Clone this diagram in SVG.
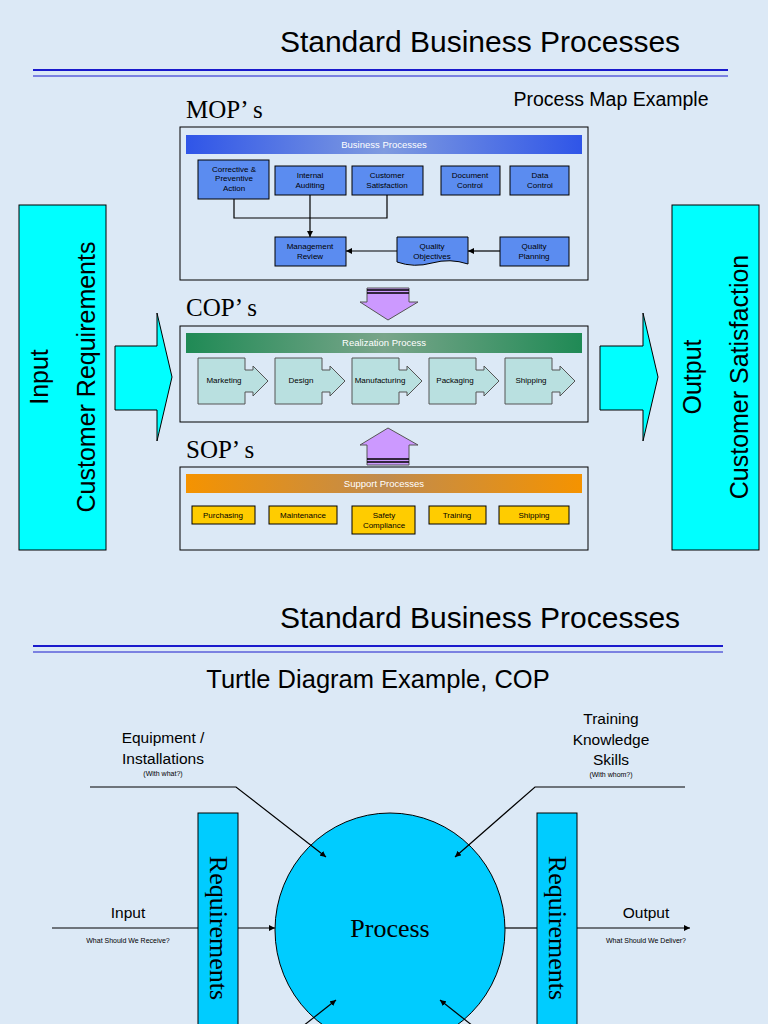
<svg xmlns="http://www.w3.org/2000/svg" width="768" height="1024" viewBox="0 0 768 1024">
<defs>
<linearGradient id="gb" x1="0" x2="1"><stop offset="0" stop-color="#2f55e8"/><stop offset="0.5" stop-color="#7f9be0"/><stop offset="1" stop-color="#2f55e8"/></linearGradient>
<linearGradient id="gg" x1="0" x2="1"><stop offset="0" stop-color="#1f8a55"/><stop offset="0.5" stop-color="#79a58a"/><stop offset="1" stop-color="#1f8a55"/></linearGradient>
<linearGradient id="go" x1="0" x2="1"><stop offset="0" stop-color="#f59300"/><stop offset="0.5" stop-color="#c08b4e"/><stop offset="1" stop-color="#f59300"/></linearGradient>
<marker id="ah" viewBox="0 0 10 10" refX="10" refY="5" markerWidth="5" markerHeight="5" orient="auto"><path d="M0,0L10,5L0,10z" fill="#000"/></marker>
<marker id="as" viewBox="0 0 10 10" refX="10" refY="5" markerWidth="5" markerHeight="5" orient="auto"><path d="M0,0L10,5L0,10z" fill="#000"/></marker>
</defs>
<style>
.s{font-family:"Liberation Sans",Arial,sans-serif;text-anchor:middle}
.r{font-family:"Liberation Serif","Times New Roman",serif}
.bb{fill:#5b8cf0;stroke:#000;stroke-width:1}
.cb{fill:#b9e0e0;stroke:#555;stroke-width:1}
.yb{fill:#ffcc00;stroke:#000;stroke-width:1}
.fr{fill:none;stroke:#000;stroke-width:1}
.t{font-size:8px}
.ln{stroke:#000;stroke-width:1.2;fill:none}
.cy{fill:#00ffff;stroke:#000;stroke-width:1}
</style>
<rect width="768" height="1024" fill="#dce9f6"/>
<text class="s" x="480" y="52" font-size="30">Standard Business Processes</text>
<line x1="33" y1="70" x2="728" y2="70" stroke="#1a1acc" stroke-width="2"/>
<line x1="33" y1="76" x2="728" y2="76" stroke="#1a1acc" stroke-width="1"/>
<text class="s" x="611" y="106" font-size="19.5">Process Map Example</text>
<text class="r" x="186" y="118" font-size="25">MOP’ s</text>
<text class="r" x="186" y="316" font-size="25">COP’ s</text>
<text class="r" x="186" y="458" font-size="25">SOP’ s</text>

<g id="mop">
<rect class="fr" x="180" y="127" width="408" height="153"/>
<rect x="186" y="135" width="396" height="19" fill="url(#gb)"/>
<text class="s" x="384" y="148" font-size="9.5" fill="#fff">Business Processes</text>
</g>
<g id="n-cpa"><rect class="bb" x="198" y="160" width="71" height="39"/><text class="s t" x="234" y="172">Corrective &amp;</text><text class="s t" x="234" y="181">Preventive</text><text class="s t" x="234" y="191">Action</text></g>
<g id="n-ia"><rect class="bb" x="275" y="166" width="71" height="29"/><text class="s t" x="310" y="178">Internal</text><text class="s t" x="310" y="188">Auditing</text></g>
<g id="n-cs"><rect class="bb" x="352" y="166" width="71" height="29"/><text class="s t" x="387" y="178">Customer</text><text class="s t" x="387" y="188">Satisfaction</text></g>
<g id="n-dc"><rect class="bb" x="441" y="166" width="59" height="29"/><text class="s t" x="470" y="178">Document</text><text class="s t" x="470" y="188">Control</text></g>
<g id="n-dat"><rect class="bb" x="510" y="166" width="59" height="29"/><text class="s t" x="540" y="178">Data</text><text class="s t" x="540" y="188">Control</text></g>
<g id="n-mr"><rect class="bb" x="275" y="237" width="71" height="29"/><text class="s t" x="310" y="249">Management</text><text class="s t" x="310" y="259">Review</text></g>
<g id="n-qo"><path class="bb" d="M397,237H468V264Q450,258 432,263Q414,268 397,262Z"/><text class="s t" x="432" y="249">Quality</text><text class="s t" x="432" y="259">Objectives</text></g>
<g id="n-qp"><rect class="bb" x="500" y="237" width="69" height="29"/><text class="s t" x="534" y="249">Quality</text><text class="s t" x="534" y="259">Planning</text></g>

<g id="cop">
<rect class="fr" x="180" y="326" width="408" height="96"/>
<rect x="186" y="333" width="396" height="20" fill="url(#gg)"/>
<text class="s" x="384" y="346" font-size="9.5" fill="#fff">Realization Process</text>
</g>
<g id="p1"><path class="cb" d="M198,358H245V370H253V366L268,381L253,396V392H245V404H198Z"/><text class="s t" x="224" y="383">Marketing</text></g>
<g id="p2"><path class="cb" d="M275,358H322V370H330V366L345,381L330,396V392H322V404H275Z"/><text class="s t" x="301" y="383">Design</text></g>
<g id="p3"><path class="cb" d="M352,358H399V370H407V366L422,381L407,396V392H399V404H352Z"/><text class="s t" x="380" y="383">Manufacturing</text></g>
<g id="p4"><path class="cb" d="M429,358H476V370H484V366L499,381L484,396V392H476V404H429Z"/><text class="s t" x="455" y="383">Packaging</text></g>
<g id="p5"><path class="cb" d="M505,358H552V370H560V366L575,381L560,396V392H552V404H505Z"/><text class="s t" x="531" y="383">Shipping</text></g>

<g id="sop">
<rect class="fr" x="180" y="467" width="408" height="83"/>
<rect x="186" y="474" width="396" height="19" fill="url(#go)"/>
<text class="s" x="384" y="487" font-size="9.5" fill="#fff">Support Processes</text>
</g>
<g id="s1"><rect class="yb" x="192" y="506" width="63" height="18"/><text class="s t" x="223" y="518">Purchasing</text></g>
<g id="s2"><rect class="yb" x="269" y="506" width="68" height="18"/><text class="s t" x="303" y="518">Maintenance</text></g>
<g id="s3"><rect class="yb" x="352" y="506" width="63" height="28"/><text class="s t" x="384" y="518">Safety</text><text class="s t" x="384" y="528">Compliance</text></g>
<g id="s4"><rect class="yb" x="429" y="506" width="57" height="18"/><text class="s t" x="457" y="518">Training</text></g>
<g id="s5"><rect class="yb" x="499" y="506" width="70" height="18"/><text class="s t" x="534" y="518">Shipping</text></g>

<g id="big-arrows">
<path d="M367,288H409V302H418L388,320L360,302H367Z" fill="#cc99ff" stroke="#555"/>
<path d="M367,290H409M367,293H409" stroke="#000" stroke-width="1.5"/>
<path d="M367,465H409V445H418L388,428L360,445H367Z" fill="#cc99ff" stroke="#555"/>
<path d="M367,459H409M367,462H409" stroke="#000" stroke-width="1.5"/>
<path class="cy" d="M115,346H157V313L172,377L157,441V410H115Z"/>
<path class="cy" d="M600,346H643V313L658,377L643,441V410H600Z"/>
</g>
<g id="input"><rect class="cy" x="19" y="205" width="87" height="345"/>
<text class="s" font-size="25" transform="translate(48,377) rotate(-90)">Input</text>
<text class="s" font-size="25" transform="translate(95,377) rotate(-90)">Customer Requirements</text></g>
<g id="output"><rect class="cy" x="672" y="205" width="87" height="345"/>
<text class="s" font-size="25" transform="translate(701,377) rotate(-90)">Output</text>
<text class="s" font-size="25" transform="translate(748,377) rotate(-90)">Customer Satisfaction</text></g>

<text class="s" x="480" y="628" font-size="30">Standard Business Processes</text>
<line x1="33" y1="646" x2="723" y2="646" stroke="#1a1acc" stroke-width="2"/>
<line x1="33" y1="652" x2="723" y2="652" stroke="#1a1acc" stroke-width="1"/>
<text class="s" x="378" y="688" font-size="25.5">Turtle Diagram Example, COP</text>

<g id="equip"><text class="s" x="163" y="743" font-size="15.5">Equipment /</text><text class="s" x="163" y="764" font-size="15.5">Installations</text><text class="s" x="163" y="776" font-size="7">(With what?)</text></g>
<g id="training"><text class="s" x="611" y="724" font-size="15.5">Training</text><text class="s" x="611" y="745" font-size="15.5">Knowledge</text><text class="s" x="611" y="765" font-size="15.5">Skills</text><text class="s" x="611" y="777" font-size="7">(With whom?)</text></g>
<g id="req-l"><rect x="198" y="813" width="40" height="220" fill="#00ccff" stroke="#000"/><text class="r" font-size="26" transform="translate(210,928) rotate(90)" text-anchor="middle">Requirements</text></g>
<g id="req-r"><rect x="537" y="813" width="40" height="220" fill="#00ccff" stroke="#000"/><text class="r" font-size="26" transform="translate(549,928) rotate(90)" text-anchor="middle">Requirements</text></g>
<g id="process"><ellipse cx="390" cy="930" rx="115" ry="117" fill="#00ccff" stroke="#000"/><text class="r" x="390" y="937" font-size="26" text-anchor="middle">Process</text></g>
<g id="in"><text class="s" x="128" y="918" font-size="15.5">Input</text><text class="s" x="128" y="943" font-size="7">What Should We Receive?</text></g>
<g id="out"><text class="s" x="646" y="918" font-size="15.5">Output</text><text class="s" x="646" y="943" font-size="7">What Should We Deliver?</text></g>

<g id="connectors">
<path class="ln" d="M234,199V218H387V195"/>
<path class="ln" d="M310,195V237" marker-end="url(#as)"/>
<path class="ln" d="M397,251H346" marker-end="url(#as)"/>
<path class="ln" d="M500,251H468" marker-end="url(#as)"/>
<path class="ln" d="M90,787H236L326,857" stroke-width="2" marker-end="url(#ah)"/>
<path class="ln" d="M685,787H535L455,857" stroke-width="2" marker-end="url(#ah)"/>
<path class="ln" d="M52,928H198"/>
<path class="ln" d="M238,928H275" marker-end="url(#as)"/>
<path class="ln" d="M505,928H537"/>
<path class="ln" d="M577,928H690" marker-end="url(#as)"/>
<path class="ln" d="M298,1030L336,1000" stroke-width="2" marker-end="url(#ah)"/>
<path class="ln" d="M478,1030L440,1000" stroke-width="2" marker-end="url(#ah)"/>
</g>
</svg>
